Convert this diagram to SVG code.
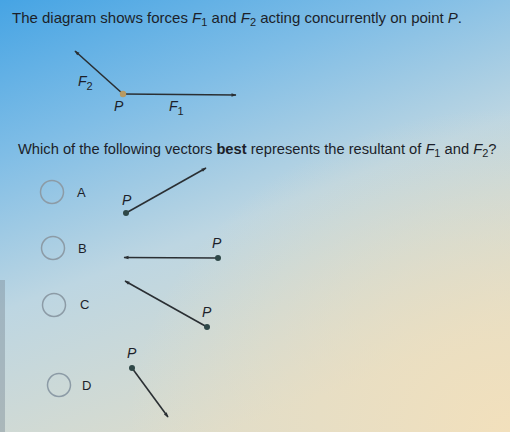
<svg xmlns="http://www.w3.org/2000/svg" width="510" height="432" viewBox="0 0 510 432">
<defs>
<linearGradient id="bg" x1="0" y1="0" x2="0.45" y2="1">
<stop offset="0" stop-color="#46a4e4"/>
<stop offset="0.3" stop-color="#7fbde6"/>
<stop offset="0.6" stop-color="#bdd6e2"/>
<stop offset="1" stop-color="#dcdccc"/>
</linearGradient>
<radialGradient id="warm" cx="1" cy="1" r="0.75">
<stop offset="0" stop-color="#f2e0bc" stop-opacity="1"/>
<stop offset="1" stop-color="#f2e0bc" stop-opacity="0"/>
</radialGradient>
<marker id="ah" viewBox="0 0 10 10" refX="9" refY="5" markerWidth="6" markerHeight="5" orient="auto" markerUnits="userSpaceOnUse">
<path d="M0,1.5 L10,5 L0,8.5 Z" fill="#2a2f33"/>
</marker>
<style>
text{font-family:"Liberation Sans",Arial,sans-serif;fill:#1c1f2a}
.t{font-size:15px}
.q{font-size:14.7px}
.lbl{font-size:14px;font-style:italic}
.opt{font-size:13px}
.sub{font-size:11px;font-style:normal}
.vec{stroke:#2a2f33;stroke-width:1.6;fill:none}
.radio{fill:none;stroke:#8c9ba6;stroke-width:1.5}
.dot{fill:#2f4848}
</style>
</defs>
<rect width="510" height="432" fill="url(#bg)"/>
<rect width="510" height="432" fill="url(#warm)"/>
<rect x="0" y="280" width="5" height="152" fill="#7f8e98" opacity="0.45"/>

<text class="t" x="12" y="23">The diagram shows forces <tspan font-style="italic">F</tspan><tspan class="sub" dy="3">1</tspan><tspan dy="-3"> and </tspan><tspan font-style="italic">F</tspan><tspan class="sub" dy="3">2</tspan><tspan dy="-3"> acting concurrently on point </tspan><tspan font-style="italic">P</tspan>.</text>

<g id="forces">
<line class="vec" x1="123" y1="94" x2="75" y2="51" marker-end="url(#ah)"/>
<line class="vec" x1="123" y1="94" x2="236" y2="95" marker-end="url(#ah)"/>
<circle cx="123" cy="94" r="3.2" fill="#b89a62"/>
<text class="lbl" x="78" y="86">F<tspan class="sub" dy="4">2</tspan></text>
<text class="lbl" x="114" y="111">P</text>
<text class="lbl" x="169" y="111">F<tspan class="sub" dy="4">1</tspan></text>
</g>

<text class="q" x="18" y="154">Which of the following vectors <tspan font-weight="bold">best</tspan> represents the resultant of <tspan font-style="italic">F</tspan><tspan class="sub" dy="3">1</tspan><tspan dy="-3"> and </tspan><tspan font-style="italic">F</tspan><tspan class="sub" dy="3">2</tspan><tspan dy="-3">?</tspan></text>

<g id="optA">
<circle class="radio" cx="52" cy="192" r="11.5"/>
<text class="opt" x="77" y="197">A</text>
<line class="vec" x1="126" y1="213" x2="206" y2="168" marker-end="url(#ah)"/>
<circle class="dot" cx="126" cy="213" r="3"/>
<text class="lbl" x="122" y="205">P</text>
</g>

<g id="optB">
<circle class="radio" cx="53" cy="248" r="11.5"/>
<text class="opt" x="78" y="253">B</text>
<line class="vec" x1="218" y1="258" x2="124" y2="257.5" marker-end="url(#ah)"/>
<circle class="dot" cx="218" cy="258" r="3"/>
<text class="lbl" x="212" y="248">P</text>
</g>

<g id="optC">
<circle class="radio" cx="54" cy="305" r="11.5"/>
<text class="opt" x="80" y="309">C</text>
<line class="vec" x1="207" y1="327" x2="125" y2="281" marker-end="url(#ah)"/>
<circle class="dot" cx="207" cy="327" r="3"/>
<text class="lbl" x="202" y="317">P</text>
</g>

<g id="optD">
<circle class="radio" cx="59" cy="385" r="11.5"/>
<text class="opt" x="82" y="390">D</text>
<line class="vec" x1="132" y1="368" x2="168" y2="417" marker-end="url(#ah)"/>
<circle class="dot" cx="132" cy="368" r="3"/>
<text class="lbl" x="127" y="358">P</text>
</g>
</svg>
